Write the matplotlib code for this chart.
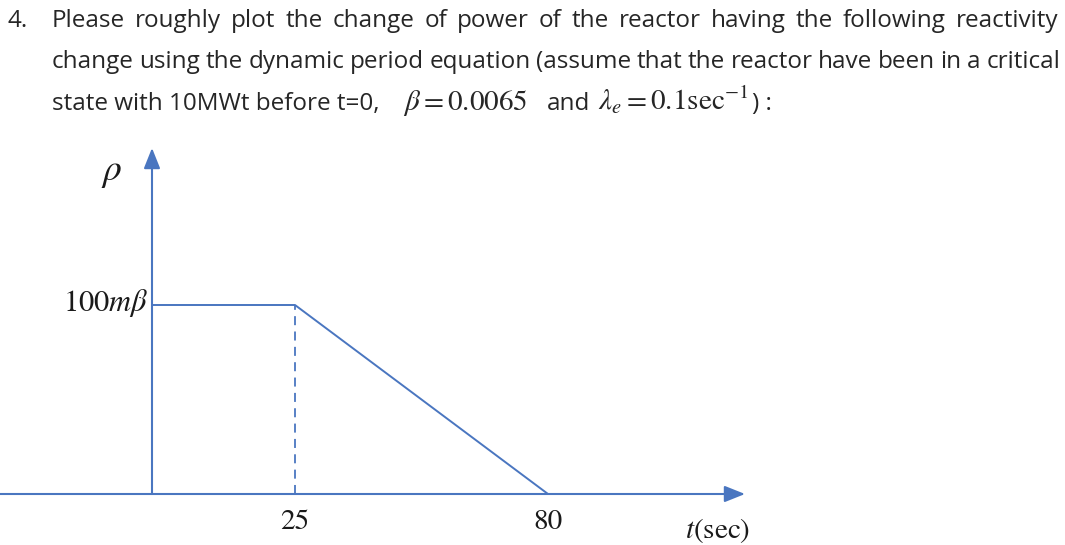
import numpy as np
import matplotlib
matplotlib.use('Agg')
import matplotlib.pyplot as plt
from matplotlib.transforms import blended_transform_factory

plt.rcParams['mathtext.fontset'] = 'stix'

# ---------------- data ----------------
t_knots = [0, 25, 80]            # time (sec)
rho_knots = [100, 100, 0]        # reactivity (m-beta)
xtick_vals = [25, 80]
xtick_labels = ['25', '80']
ytick_vals = [100]
ytick_labels = [r'$100m\beta$']
y_label = r'$\rho$'
x_label = r'$t(\mathrm{sec})$'

header_num = "4."
header_line1 = "Please roughly plot the change of power of the reactor having the following reactivity"
header_line2 = "change using the dynamic period equation (assume that the reactor have been in a critical"
header_line3 = "state with 10MWt before t=0,"
header_beta = r'$\beta = 0.0065$'
header_and = "and"
header_lambda = r'$\lambda_e = 0.1\mathrm{sec}^{-1}$'
header_end = ") :"

# ---------------- figure ----------------
W, H = 1065, 545
fig = plt.figure(figsize=(W / 100, H / 100), dpi=100)
fig.patch.set_facecolor('white')
C = '#4a76c0'
TXT = '#262626'
LAB = '#1a1a1a'

ax = fig.add_axes([0, 0, 1, 1])
ax.axis('off')

# schematic (not-to-scale) time axis: piecewise linear scale
seg_t = [0, 25, 80]
seg_p = [0, 143, 396]
sl_left = (seg_p[1] - seg_p[0]) / (seg_t[1] - seg_t[0])
sl_right = (seg_p[2] - seg_p[1]) / (seg_t[2] - seg_t[1])


def fwd(t):
    t = np.asarray(t, float)
    out = np.interp(t, seg_t, seg_p)
    out = np.where(t < seg_t[0], (t - seg_t[0]) * sl_left, out)
    out = np.where(t > seg_t[-1], seg_p[-1] + (t - seg_t[-1]) * sl_right, out)
    return out


def inv(p):
    p = np.asarray(p, float)
    out = np.interp(p, seg_p, seg_t)
    out = np.where(p < seg_p[0], p / sl_left, out)
    out = np.where(p > seg_p[-1], seg_t[-1] + (p - seg_p[-1]) / sl_right, out)
    return out


ax.set_xscale('function', functions=(fwd, inv))
x0_px = 152
ax.set_xlim(float(inv(-x0_px)), float(inv(W - x0_px)))
y0_px = H - 494
ppu = (494 - 305) / 100.0
ax.set_ylim(-y0_px / ppu, (H - y0_px) / ppu)

# axes with arrows
bx = blended_transform_factory(ax.transAxes, ax.transData)
by = blended_transform_factory(ax.transData, ax.transAxes)
aprops = dict(arrowstyle='-|>,head_length=1.25,head_width=0.5', mutation_scale=10,
              color=C, lw=1.5, shrinkA=0, shrinkB=0)
ax.annotate('', xy=(745 / W, 0), xycoords=bx, xytext=(0, 0), textcoords=bx,
            arrowprops=aprops)
ax.annotate('', xy=(0, (H - 148) / H), xycoords=by, xytext=(0, y0_px / H), textcoords=by,
            arrowprops=aprops)

# reactivity curve
ax.plot(t_knots, rho_knots, color=C, lw=1.4, solid_capstyle='butt')
ax.plot([t_knots[1], t_knots[1]], [0, rho_knots[1]], color=C, lw=1.3,
        ls=(0, (5, 3.5)))

# tick labels
for v, lab in zip(xtick_vals, xtick_labels):
    ax.annotate(lab, xy=(v, 0), xytext=(0, -28), textcoords='offset pixels',
                ha='center', va='center', fontsize=21, color=LAB,
                family='STIXGeneral')
for v, lab in zip(ytick_vals, ytick_labels):
    ax.annotate(lab, xy=(0, v), xytext=(-4, 2), textcoords='offset pixels',
                ha='right', va='center', fontsize=22, color=LAB)

fig.text(112 / W, 1 - 172 / H, y_label, fontsize=27, ha='center', va='center',
         color=LAB)
fig.text(718 / W, 1 - 538 / H, x_label, fontsize=21, ha='center', va='baseline',
         color=LAB)

# ---------------- header text ----------------
renderer = fig.canvas.get_renderer()
FAM = 'Open Sans'

probe = fig.text(0, 0, header_line3, fontsize=10, family=FAM)
w10 = probe.get_window_extent(renderer).width
probe.remove()
FS = 10 * (380 - 52) / w10


def put(s, x, yb, **kw):
    kw.setdefault('family', FAM)
    kw.setdefault('fontsize', FS)
    return fig.text(x / W, 1 - yb / H, s, va='baseline', ha='left', color=TXT, **kw)


def justify(line, x0, x1, yb):
    words = line.split(' ')
    ts = [put(w, 0, yb) for w in words]
    ws = [t.get_window_extent(renderer).width for t in ts]
    gap = (x1 - x0 - sum(ws)) / (len(words) - 1)
    x = x0
    for t, w in zip(ts, ws):
        t.set_x(x / W)
        x += w + gap


put(header_num, 8, 27)
justify(header_line1, 52, 1058, 27)
justify(header_line2, 52, 1060, 68)
put(header_line3, 52, 110)
put(header_beta, 403, 110, fontsize=21)
put(header_and, 547, 110)
put(header_lambda, 598, 110, fontsize=21)
put(header_end, 752, 110)

fig.savefig('out.png', dpi=100, facecolor='white')
